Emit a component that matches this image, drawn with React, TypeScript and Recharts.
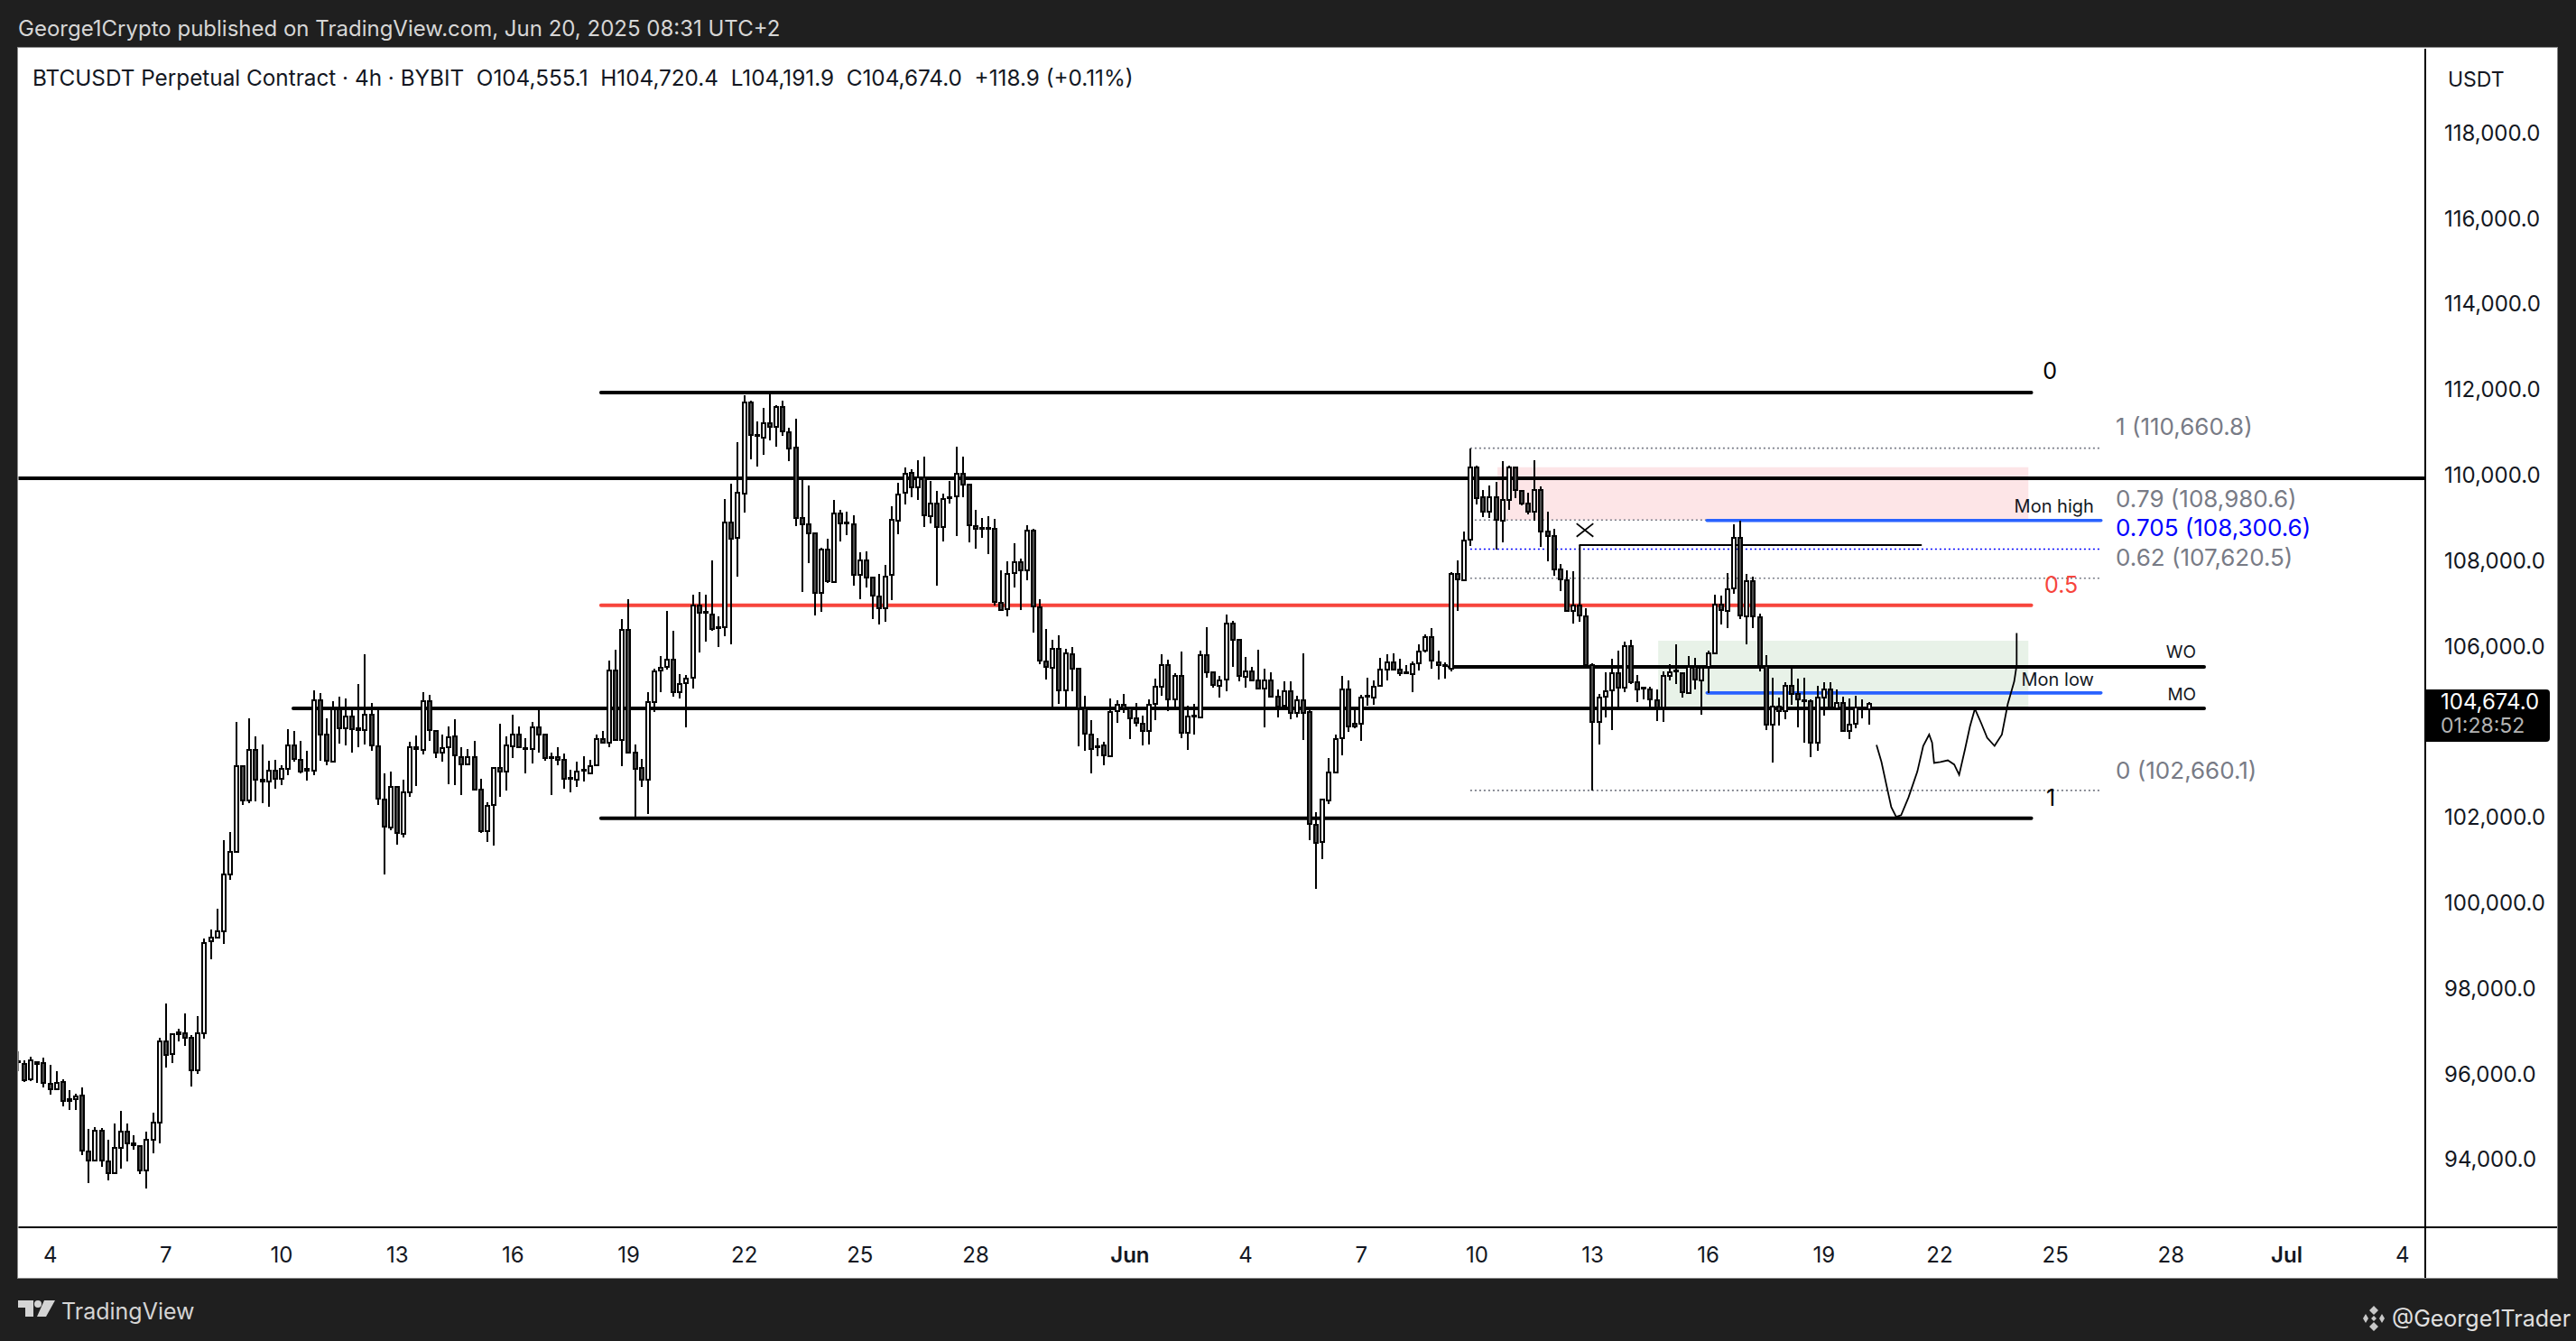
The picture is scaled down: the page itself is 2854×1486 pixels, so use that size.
import React from 'react';
import { ComposedChart, Bar, Line, XAxis, YAxis, ReferenceLine, ReferenceArea, ReferenceDot } from 'recharts';

const opens = [
  96300, 96272, 95895, 96309, 96290, 95801, 95669, 95838, 95433, 95443,
  95518, 94218, 94011, 94708, 93992, 93728, 94312, 94689, 94406, 94350,
  93785, 94501, 94896, 96799, 96479, 96959, 96988, 96875, 96121, 96988,
  99117, 99211, 99380, 100699, 101227, 103224, 102414, 103600, 102903, 102866,
  103120, 102932, 103167, 103714, 103374, 103130, 103130, 104769, 103958, 103337,
  104561, 104109, 104392, 104071, 104071, 104439, 103695, 102451, 101801, 102743,
  101660, 102621, 103638, 103619, 104750, 104053, 103544, 103676, 103914, 103447,
  103281, 103447, 102678, 101714, 102317, 103191, 103100, 103703, 103974, 103658,
  103628, 104125, 103959, 103447, 103447, 103372, 102950, 102904, 103115, 103070,
  103251, 103869, 103779, 105466, 103839, 106416, 103552, 103176, 102904, 104743,
  105466, 105542, 105708, 104954, 105165, 105286, 106973, 106838, 106777, 106476,
  106491, 108933, 108556, 109611, 111735, 110967, 110922, 111253, 111163, 111630,
  111042, 110665, 109023, 108872, 108661, 107275, 108284, 107546, 109144, 108917,
  108887, 107712, 108043, 107637, 107199, 106928, 107682, 108978, 109611, 110078,
  109746, 109972, 109083, 109369, 108812, 109520, 109535, 110063, 109799, 108842,
  108789, 108789, 108782, 107049, 106898, 107742, 107998, 107817, 108736, 106943,
  105677, 105542, 105979, 105000, 105843, 105496, 104577, 103974, 103688, 103703,
  103462, 104517, 104668, 104577, 104336, 104223, 104050, 104683, 105089, 105587,
  104788, 105331, 104004, 104411, 104381, 105828, 105421, 105120, 105240, 106551,
  106175, 105331, 105451, 105240, 105059, 105240, 104848, 104622, 104969, 104472,
  104773, 104487, 101864, 101443, 102437, 103085, 103884, 105029, 104223, 104223,
  104871, 104833, 105105, 105496, 105662, 105481, 105413, 105391, 105632, 105918,
  106235, 105655, 105587, 105504, 107712, 107591, 108525, 110213, 109505, 109173,
  109505, 108978, 109460, 110213, 109671, 109369, 109189, 109686, 108706, 108601,
  107817, 107576, 106853, 106973, 106732, 105587, 104261, 104848, 104999, 105391,
  105059, 106024, 105180, 105067, 105029, 104773, 104600, 105353, 105466, 105391,
  104939, 105541, 105240, 105557, 105873, 107003, 106868, 107380, 108571, 106747,
  107561, 106717, 105572, 104200, 104622, 104517, 105105, 104924, 104773, 104743,
  103778, 104848, 105029, 104592, 104713, 104050, 104216, 104592, 104555.1,
];

const highs = [
  96554, 96338, 96441, 96328, 96403, 96253, 96102, 95895, 95650, 95575,
  95707, 94746, 94783, 94765, 94501, 94878, 95160, 94878, 94595, 94350,
  94689, 95122, 96875, 97685, 96969, 97082, 97440, 96931, 97383, 99192,
  99399, 99889, 101490, 101679, 104260, 103224, 104335, 103921, 103732, 103356,
  103374, 103243, 104090, 104053, 103808, 103582, 104995, 104938, 104354, 104750,
  104844, 104806, 104533, 105145, 105842, 104712, 104580, 103054, 103092, 102743,
  102903, 103789, 103940, 104957, 104900, 104053, 103958, 104147, 104321, 103673,
  103620, 103824, 102935, 102377, 103191, 104216, 103922, 104427, 104155, 103884,
  104261, 104577, 103990, 103545, 103673, 103522, 103146, 103327, 103462, 103372,
  103959, 104050, 105692, 105949, 106672, 107124, 103733, 103387, 104954, 105497,
  105798, 106853, 106386, 105376, 105353, 107230, 107305, 107230, 108028, 106732,
  109475, 109837, 110801, 111901, 111766, 111283, 111600, 111947, 111660, 111766,
  111133, 111344, 109912, 109791, 108661, 108330, 108541, 109445, 109219, 109174,
  109083, 108224, 108239, 107652, 107712, 107923, 109294, 109852, 110213, 110168,
  110379, 110454, 109897, 109656, 109595, 109897, 110696, 110454, 109837, 109219,
  109023, 109068, 109008, 107802, 108013, 108435, 108073, 108857, 108782, 107124,
  106431, 106175, 106280, 105979, 106009, 105527, 104863, 104298, 103884, 103793,
  104803, 104758, 104909, 104577, 104698, 104411, 104788, 105270, 105843, 105707,
  105391, 105903, 104637, 104683, 105933, 106476, 105451, 105331, 106762, 106627,
  106190, 105783, 105542, 105949, 105496, 105421, 105014, 105210, 105210, 104863,
  105858, 104562, 102151, 102452, 103417, 103959, 105331, 105240, 104562, 104901,
  105285, 105225, 105768, 105843, 105858, 105737, 105579, 105677, 106084, 106310,
  106446, 105918, 105655, 107772, 108028, 108721, 110660.8, 110259, 109686, 109791,
  109867, 110349, 110251, 110228, 109686, 109611, 110379, 109761, 109173, 108782,
  107953, 107802, 107787, 107049, 106913, 105632, 104924, 105421, 105737, 105918,
  106129, 106175, 105361, 105074, 105074, 105014, 105451, 105617, 106069, 105429,
  105798, 105753, 105572, 105933, 107229, 107214, 107742, 108872, 108963, 107712,
  107667, 106785, 105813, 105285, 104833, 105180, 105527, 105270, 105285, 104788,
  105105, 105180, 105180, 105029, 104848, 104803, 104863, 104788, 104720.4,
];

const lows = [
  96102, 95838, 95857, 95820, 95725, 95556, 95669, 95273, 95198, 95179,
  94124, 93483, 93992, 93860, 93540, 93728, 93823, 93992, 94256, 93691,
  93352, 94180, 94406, 96177, 96290, 96799, 96686, 95744, 96027, 96856,
  98721, 99211, 99079, 100567, 101208, 102319, 102357, 102395, 102357, 102282,
  102696, 102790, 103016, 103337, 103054, 102885, 103016, 103356, 103243, 103337,
  103751, 103714, 103544, 103676, 103732, 103582, 102319, 100699, 101735, 101396,
  101566, 102508, 102753, 103506, 103827, 103412, 103337, 102809, 102784, 102558,
  103266, 102663, 101669, 101458, 101360, 102512, 102663, 103417, 103658, 103055,
  103296, 103552, 103357, 102558, 103251, 102694, 102618, 102739, 102874, 103070,
  103236, 103764, 103673, 103824, 103236, 103537, 102038, 102739, 102106, 104487,
  104954, 105482, 104849, 104818, 104140, 105044, 105888, 106144, 106386, 106009,
  106265, 106084, 107667, 109159, 110409, 110228, 110515, 110846, 110696, 110952,
  110364, 108842, 107290, 107983, 106747, 106838, 107501, 107546, 108480, 108631,
  107456, 107139, 107410, 106672, 106536, 106612, 107109, 108646, 109354, 109520,
  109445, 108827, 108902, 107441, 108480, 109369, 108616, 109520, 108465, 108315,
  108571, 108194, 106988, 106853, 106732, 107410, 106883, 107576, 106355, 105617,
  105255, 104622, 104683, 104622, 104984, 103688, 103583, 103055, 103462, 103251,
  103447, 104246, 104472, 103869, 104155, 103718, 103733, 104306, 104879, 104517,
  104562, 103884, 103613, 103959, 104381, 105300, 105059, 104833, 104984, 105557,
  105210, 105059, 105210, 105044, 104125, 104833, 104366, 104562, 104321, 104366,
  103839, 101488, 100357, 101051, 102347, 103085, 103477, 104020, 104110, 103824,
  104637, 104668, 105105, 105240, 105481, 105346, 105368, 104954, 105466, 105888,
  105511, 105255, 105278, 105451, 106853, 107591, 108375, 109354, 109053, 109023,
  108299, 108465, 109219, 109490, 109324, 109113, 108963, 108345, 108013, 107682,
  107320, 106853, 106566, 106612, 105557, 102660.1, 103733, 104374, 104080, 104600,
  104954, 105150, 104728, 104788, 104600, 104291, 104261, 105240, 105150, 104833,
  104924, 105029, 104427, 104939, 105843, 106536, 106461, 107260, 106657, 106084,
  106446, 105451, 104080, 103311, 104170, 104321, 104668, 104140, 103778, 103447,
  103583, 104412, 104577, 104577, 104035, 103869, 104110, 104351, 104191.9,
];

const closes = [
  96330, 95895, 96347, 96272, 95820, 95669, 95820, 95386, 95395, 95509,
  94237, 94011, 94708, 94011, 93728, 94312, 94689, 94425, 94369, 93785,
  94501, 94896, 96799, 96479, 96950, 96997, 96893, 96121, 96988, 99098,
  99211, 99361, 100699, 101227, 103224, 102432, 103600, 102903, 102866, 103120,
  102932, 103167, 103714, 103393, 103092, 103167, 104769, 103958, 103337, 104561,
  104109, 104392, 104090, 104109, 104439, 103714, 102470, 101811, 102743, 101660,
  102621, 103676, 103676, 104750, 104071, 103544, 103657, 103902, 103462, 103281,
  103447, 102694, 101714, 102302, 103191, 103100, 103703, 103974, 103673, 103627,
  104125, 103959, 103402, 103417, 103387, 102935, 102920, 103100, 103146, 103236,
  103869, 103779, 105466, 103839, 106416, 103552, 103176, 102904, 104728, 105451,
  105527, 105708, 104954, 105150, 105278, 106973, 106808, 106808, 106431, 106446,
  108933, 108556, 109611, 111735, 110982, 110937, 111253, 111163, 111630, 111057,
  110665, 109023, 108872, 108661, 107275, 108284, 107546, 109144, 108902, 108887,
  107712, 108043, 107637, 107214, 106928, 107667, 108978, 109580, 110063, 109746,
  109972, 109083, 109369, 108812, 109475, 109490, 110063, 109806, 108857, 108782,
  108759, 108759, 107064, 106883, 107727, 107998, 107817, 108736, 106958, 105692,
  105542, 105979, 105000, 105858, 105496, 104577, 103989, 103643, 103658, 103462,
  104502, 104668, 104577, 104336, 104223, 104050, 104668, 105074, 105587, 104788,
  105331, 104004, 104381, 104381, 105828, 105436, 105120, 105240, 106551, 106175,
  105331, 105451, 105240, 105059, 105240, 104863, 104622, 104969, 104472, 104773,
  104487, 101864, 101443, 102437, 103085, 103869, 105029, 104170, 104170, 104833,
  104841, 105090, 105481, 105662, 105496, 105406, 105383, 105617, 105903, 106235,
  105677, 105594, 105557, 107712, 107591, 108510, 110213, 109505, 109173, 109505,
  108978, 109460, 110213, 109686, 109385, 109189, 109686, 108706, 108601, 107817,
  107576, 106853, 106973, 106747, 105587, 104261, 104833, 104984, 105391, 105059,
  106024, 105180, 105014, 105037, 104788, 104600, 105346, 105429, 105436, 104939,
  105541, 105240, 105527, 105873, 107003, 106868, 107365, 108571, 106747, 107561,
  106732, 105579, 104200, 104622, 104517, 105105, 104924, 104788, 104743, 103763,
  104833, 105029, 104607, 104713, 104050, 104200, 104592, 104562, 104674,
];

const candles = opens.map((open, i) => ({ i, open, high: highs[i], low: lows[i], close: closes[i] }));

// 104,000 sits behind the last price box in the reference, so it is not listed
const priceTicks = [94000, 96000, 98000, 100000, 102000, 106000, 108000, 110000, 112000, 114000, 116000, 118000];
const dateTicks = [5, 23, 41, 59, 77, 95, 113, 131, 149, 173, 191, 209, 227, 245, 263, 281, 299, 317, 335, 353, 371];
const dateLabels = ['4', '7', '10', '13', '16', '19', '22', '25', '28', 'Jun', '4', '7', '10', '13', '16', '19', '22', '25', '28', 'Jul', '4'];

// the hand drawn projection at the right of the last candle
const sketchBars = [289.17, 289.94, 290.7, 291.47, 292.23, 293, 294.15, 295.52, 296.44, 297.36, 297.82, 298.13, 299.12, 300.27, 301.26, 302.03, 302.95, 303.71, 304.48, 305.47, 306.39, 307.54, 308.68, 309.6, 310.6, 310.98, 310.98];
const sketchPrices = [103724, 103325, 102797, 102270, 102044, 102081, 102496, 103098, 103701, 103965, 103777, 103302, 103325, 103362, 103264, 103023, 103626, 104153, 104568, 104229, 103890, 103701, 103965, 104681, 105208, 105585, 106338];
const sketchPath = sketchBars.map((i, k) => ({ i, price: sketchPrices[k] }));

const FONT = 'Inter, "Noto Sans", sans-serif';
const BLACK = '#000000';
const RED = '#f7453c';
const BLUE = '#2962ff';
const GRAY = '#787b86';

const xMin = 0.056;
const xMax = 374.56;

const Candle = (props: any) => {
  const { x, y, width, height, payload } = props;
  const { open, high, low, close } = payload;
  const h = Math.abs(height);
  const perUnit = h / (high - low || 1);
  const mid = Math.round(x + width / 2); // snapped so wicks stay crisp
  const up = close >= open;
  const bodyTop = Math.round(y + (high - Math.max(open, close)) * perUnit);
  const bodyH = Math.max(Math.round(Math.abs(open - close) * perUnit), 1);
  return (
    <g>
      <line x1={mid} x2={mid} y1={Math.round(y)} y2={Math.round(y + h)} stroke={BLACK} strokeWidth={2} />
      <rect x={mid - 2} y={bodyTop} width={4} height={bodyH} fill={up ? '#ffffff' : '#4d4d4d'} stroke={BLACK} strokeWidth={2} />
    </g>
  );
};

const DateTick = (props: any) => {
  const { x, y, payload } = props;
  const label = dateLabels[dateTicks.indexOf(payload.value)];
  const strong = label === 'Jun' || label === 'Jul';
  return (
    <text x={x} y={y} textAnchor="middle" dominantBaseline="central" fontFamily={FONT} fontSize={24} fontWeight={strong ? 600 : 400} fill="#131722">
      {label}
    </text>
  );
};

const PriceTick = (props: any) => {
  const { x, y, payload } = props;
  return (
    <text x={x} y={y - 1.5} textAnchor="start" dominantBaseline="central" fontFamily={FONT} fontSize={24} fill="#131722">
      {payload.value.toLocaleString('en-US', { minimumFractionDigits: 1 })}
    </text>
  );
};

const segment = (from: number, to: number, price: number, color: string, width: number, extra: any = {}) => (
  <ReferenceLine
    key={`${from}-${price}`}
    segment={[{ x: from, y: price }, { x: to, y: price }]}
    stroke={color}
    strokeWidth={width}
    strokeLinecap="round"
    zIndex={150}
    {...extra}
  />
);

const note = (text: string, at: number, price: number, color: string, size: number, anchor: string) => (
  <ReferenceDot
    key={text}
    x={at}
    y={price}
    r={0}
    zIndex={700}
    shape={(p: any) => (
      <text x={p.cx} y={p.cy} textAnchor={anchor as any} dominantBaseline="central" fontFamily={FONT} fontSize={size} fill={color}>
        {text}
      </text>
    )}
  />
);

const dotted = { strokeDasharray: '2 3', strokeLinecap: 'butt' };

const box = (style: React.CSSProperties, text?: string) => (
  <div style={{ position: 'absolute', fontFamily: FONT, whiteSpace: 'pre', ...style }}>{text}</div>
);

export default function App() {
  return (
    <div style={{ position: 'absolute', left: 0, top: 0, width: 2854, height: 1486, background: '#1f1f1f', overflow: 'hidden' }}>
      {box({ left: 20, top: 18, fontSize: 24, lineHeight: '28px', color: '#d6d6d6' }, 'George1Crypto published on TradingView.com, Jun 20, 2025 08:31 UTC+2')}
      {box({ left: 20, top: 53, width: 2813, height: 1363, background: '#fff', boxShadow: '0 0 0 1px #8a8a8a' })}

      <ComposedChart
        width={2854}
        height={1486}
        data={candles}
        margin={{ top: 54, right: 21, bottom: 70, left: 20.5 }}
        style={{ position: 'absolute', left: 0, top: 0 }}
      >
        <XAxis
          dataKey="i"
          type="number"
          domain={[xMin, xMax]}
          allowDataOverflow
          ticks={dateTicks}
          interval={0}
          height={56}
          tick={<DateTick />}
          tickLine={false}
          tickMargin={24}
          axisLine={{ stroke: BLACK, strokeWidth: 2 }}
        />
        <YAxis
          orientation="right"
          type="number"
          domain={[92445, 120000]}
          allowDataOverflow
          ticks={priceTicks}
          interval={0}
          width={146}
          tickLine={false}
          tickMargin={15}
          tick={<PriceTick />}
          axisLine={{ stroke: BLACK, strokeWidth: 2 }}
        />

        <ReferenceArea x1={230.2} x2={312.8} y1={108980.6} y2={110213} fill="#f23645" fillOpacity={0.13} stroke="none" zIndex={50} />
        <ReferenceArea x1={255.2} x2={312.8} y1={104577} y2={106160} fill="#4c9a50" fillOpacity={0.13} stroke="none" zIndex={50} />

        {segment(225.95, 324, 110660.8, GRAY, 1.6, dotted)}
        {segment(225.95, 324, 108980.6, GRAY, 1.6, dotted)}
        {segment(225.95, 324, 108300.6, '#0000ff', 1.6, dotted)}
        {segment(225.95, 324, 107620.5, GRAY, 1.6, dotted)}
        {segment(225.95, 324, 102660.1, GRAY, 1.6, dotted)}

        {segment(90.7, 313.26, 111962, BLACK, 4)}
        <ReferenceLine y={109957} stroke={BLACK} strokeWidth={4} zIndex={150} />
        {segment(90.7, 313.26, 106988, RED, 4)}
        {segment(42.82, 340.15, 104577, BLACK, 4)}
        {segment(90.7, 313.26, 102008, BLACK, 4)}
        {segment(222.7, 340.15, 105549, BLACK, 4)}
        {segment(262.8, 324.1, 108970, BLUE, 3.6)}
        {segment(262.8, 324.1, 104939, BLUE, 3.6)}
        {segment(243, 296.1, 108397, BLACK, 2)}
        <ReferenceLine segment={[{ x: 243, y: 106973 }, { x: 243, y: 108397 }]} stroke={BLACK} strokeWidth={2} zIndex={150} />
        <ReferenceLine segment={[{ x: 242.5, y: 108900 }, { x: 245.1, y: 108590 }]} stroke={BLACK} strokeWidth={1.8} zIndex={150} />
        <ReferenceLine segment={[{ x: 242.5, y: 108590 }, { x: 245.1, y: 108900 }]} stroke={BLACK} strokeWidth={1.8} zIndex={150} />

        <Bar dataKey={(d: any) => [d.low, d.high]} barSize={5} shape={<Candle />} isAnimationActive={false} zIndex={300} />
        <Line data={sketchPath} dataKey="price" type="linear" stroke={BLACK} strokeWidth={1.8} dot={false} activeDot={false} isAnimationActive={false} zIndex={400} />

        {note('0', 316.14, 112468, BLACK, 25, 'middle')}
        {note('1', 316.3, 102488, BLACK, 25, 'middle')}
        {note('0.5', 315.3, 107467, RED, 25, 'start')}
        {note('1 (110,660.8)', 326.4, 111160, GRAY, 26, 'start')}
        {note('0.79 (108,980.6)', 326.4, 109472, GRAY, 26, 'start')}
        {note('0.705 (108,300.6)', 326.4, 108797, '#0000ff', 26, 'start')}
        {note('0.62 (107,620.5)', 326.4, 108111, GRAY, 26, 'start')}
        {note('0 (102,660.1)', 326.4, 103142, GRAY, 26, 'start')}
        {note('Mon high', 323, 109303, '#131722', 20, 'end')}
        {note('Mon low', 323, 105262, '#131722', 20, 'end')}
        {note('WO', 338.9, 105906, '#131722', 19, 'end')}
        {note('MO', 338.9, 104914, '#131722', 19, 'end')}
      </ComposedChart>

      {box({ left: 2686, top: 1360, width: 2, height: 56, background: BLACK })}
      {box({ left: 2687, top: 1359, width: 146, height: 2, background: BLACK })}

      {box({ left: 36, top: 72, fontSize: 24.3, lineHeight: '28px', color: '#131722' }, 'BTCUSDT Perpetual Contract · 4h · BYBIT  O104,555.1  H104,720.4  L104,191.9  C104,674.0  +118.9 (+0.11%)')}
      {box({ left: 2712, top: 74, fontSize: 23, lineHeight: '28px', color: '#131722' }, 'USDT')}

      {box({ left: 2687, top: 764, width: 138, height: 58, background: BLACK, borderRadius: '0 4px 4px 0' })}
      {box({ left: 2704, top: 765, fontSize: 24, lineHeight: '26px', color: '#ffffff' }, '104,674.0')}
      {box({ left: 2704, top: 791, fontSize: 23, lineHeight: '26px', color: '#b4b4b4' }, '01:28:52')}

      <svg width={42} height={20} style={{ position: 'absolute', left: 20, top: 1440 }}>
        <path d="M0 1h17v18H8V9H0z M29 1h12L31 19H21z" fill="#d4d4d4" />
        <circle cx={22} cy={5} r={4} fill="#d4d4d4" />
      </svg>
      {box({ left: 68, top: 1438, fontSize: 25, lineHeight: '30px', color: '#d4d4d4' }, 'TradingView')}

      <svg width={24} height={28} style={{ position: 'absolute', left: 2618, top: 1447 }}>
        <path d="M12 0l5 5-5 5-5-5z M12 18l5 5-5 5-5-5z M3 9l3 5-3 5-3-5z M21 9l3 5-3 5-3-5z M12 11l3 3-3 3-3-3z" fill="#c8c8c8" />
      </svg>
      {box({ left: 2650, top: 1446, fontSize: 25, lineHeight: '30px', color: '#e0e0e0' }, '@George1Trader')}
    </div>
  );
}
